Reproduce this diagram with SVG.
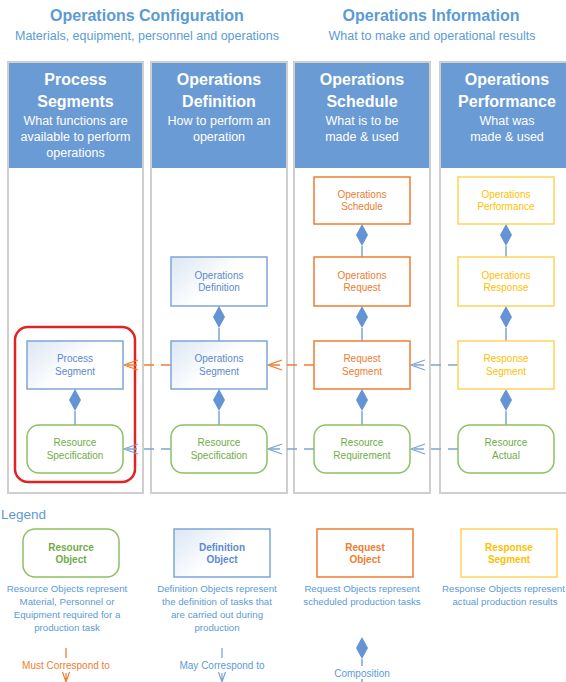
<svg xmlns="http://www.w3.org/2000/svg" width="566" height="682" viewBox="0 0 566 682">
<style>
text{font-family:"Liberation Sans",Arial,sans-serif;text-anchor:middle}
.title{font-size:16px;font-weight:bold;fill:#5b9bd5}
.sub{font-size:12.5px;fill:#5b9bd5}
.col{fill:#ffffff;stroke:#cfcfcf;stroke-width:2}
.hdr{fill:#6a9bd4}
.ht{font-size:16px;font-weight:bold;fill:#ffffff}
.hs{font-size:12.5px;fill:#ffffff}
.def{fill:url(#g);stroke:#7ea6d8;stroke-width:1.5}
.req{fill:#ffffff;stroke:#ed7d31;stroke-width:1.5}
.rsp{fill:#ffffff;stroke:#fdd35a;stroke-width:1.5}
.res{fill:#ffffff;stroke:#8dc063;stroke-width:1.5}
.nt{font-size:10px}
.tb{fill:#5b8ad0}
.to{fill:#ed7d31}
.ty{fill:#ffc000}
.tg{fill:#70ad47}
.b{font-weight:bold}
.dia{fill:#6494d4}
.cl{stroke:#7aa6d8;stroke-width:1.5;fill:none}
.dashb{stroke:#7aa6d8;stroke-width:1.5;stroke-dasharray:10 7;fill:none}
.dasho{stroke:#ed7d31;stroke-width:1.5;stroke-dasharray:10 7;fill:none}
.lt{font-size:9.7px;fill:#5b9bd5}
</style>
<defs>
<linearGradient id="g" x1="0" y1="0" x2="1" y2="0.6">
<stop offset="0" stop-color="#dce6f3"/>
<stop offset="0.6" stop-color="#ffffff"/>
</linearGradient>
<marker id="ab" markerUnits="userSpaceOnUse" markerWidth="20" markerHeight="20" refX="0" refY="0" viewBox="-16 -8 20 16" orient="auto" overflow="visible">
<path d="M-14,-5 L0,0 L-14,5" fill="none" stroke="#7aa6d8" stroke-width="1.3" stroke-dasharray="none"/>
</marker>
<marker id="ao" markerUnits="userSpaceOnUse" markerWidth="20" markerHeight="20" refX="0" refY="0" viewBox="-16 -8 20 16" orient="auto" overflow="visible">
<path d="M-14,-5 L0,0 L-14,5" fill="none" stroke="#ed7d31" stroke-width="1.3" stroke-dasharray="none"/>
</marker>
</defs>
<rect width="566" height="682" fill="#ffffff"/>

<g id="headings">
<text class="title" x="147" y="21">Operations Configuration</text>
<text class="sub" x="147" y="39.5">Materials, equipment, personnel and operations</text>
<text class="title" x="431" y="21">Operations Information</text>
<text class="sub" x="432" y="39.5">What to make and operational results</text>
</g>

<g id="col-process-segments">
<rect class="col" x="8" y="62" width="135" height="431"/>
<rect class="hdr" x="9" y="63" width="133" height="105"/>
<text class="ht" x="75.5" y="85">Process</text>
<text class="ht" x="75.5" y="107">Segments</text>
<text class="hs" x="75.5" y="124.5">What functions are</text>
<text class="hs" x="75.5" y="140.5">available to perform</text>
<text class="hs" x="75.5" y="157">operations</text>
</g>
<g id="col-operations-definition">
<rect class="col" x="151" y="62" width="136" height="431"/>
<rect class="hdr" x="152" y="63" width="134" height="105"/>
<text class="ht" x="219" y="85">Operations</text>
<text class="ht" x="219" y="107">Definition</text>
<text class="hs" x="219" y="124.5">How to perform an</text>
<text class="hs" x="219" y="140.5">operation</text>
</g>
<g id="col-operations-schedule">
<rect class="col" x="294" y="62" width="136" height="431"/>
<rect class="hdr" x="295" y="63" width="134" height="105"/>
<text class="ht" x="362" y="85">Operations</text>
<text class="ht" x="362" y="107">Schedule</text>
<text class="hs" x="362" y="124.5">What is to be</text>
<text class="hs" x="362" y="140.5">made &amp; used</text>
</g>
<g id="col-operations-performance">
<rect class="col" x="440" y="62" width="136" height="431"/>
<rect class="hdr" x="441" y="63" width="134" height="105"/>
<text class="ht" x="507" y="85">Operations</text>
<text class="ht" x="507" y="107">Performance</text>
<text class="hs" x="507" y="124.5">What was</text>
<text class="hs" x="507" y="140.5">made &amp; used</text>
</g>

<g id="highlight">
<rect x="15" y="327" width="120" height="155" rx="13" fill="none" stroke="#e02424" stroke-width="2.5"/>
</g>

<g id="connectors">
<line class="cl" x1="75" y1="411" x2="75" y2="425"/>
<line class="cl" x1="219" y1="328" x2="219" y2="341"/>
<line class="cl" x1="219" y1="411" x2="219" y2="425"/>
<line class="cl" x1="362" y1="246" x2="362" y2="257"/>
<line class="cl" x1="362" y1="328" x2="362" y2="341"/>
<line class="cl" x1="362" y1="411" x2="362" y2="425"/>
<line class="cl" x1="506" y1="246" x2="506" y2="257"/>
<line class="cl" x1="506" y1="328" x2="506" y2="341"/>
<line class="cl" x1="506" y1="411" x2="506" y2="425"/>
<path class="dia" d="M75,389 L81,400 L75,411 L69,400 Z"/>
<path class="dia" d="M219,306 L225,317 L219,328 L213,317 Z"/>
<path class="dia" d="M219,389 L225,400 L219,411 L213,400 Z"/>
<path class="dia" d="M362,224 L368,235 L362,246 L356,235 Z"/>
<path class="dia" d="M362,306 L368,317 L362,328 L356,317 Z"/>
<path class="dia" d="M362,389 L368,400 L362,411 L356,400 Z"/>
<path class="dia" d="M506,224 L512,235 L506,246 L500,235 Z"/>
<path class="dia" d="M506,306 L512,317 L506,328 L500,317 Z"/>
<path class="dia" d="M506,389 L512,400 L506,411 L500,400 Z"/>
<line class="dasho" x1="171" y1="365" x2="124" y2="365" marker-end="url(#ao)"/>
<line class="dasho" x1="314" y1="365" x2="268" y2="365" marker-end="url(#ao)"/>
<line class="dashb" x1="458" y1="365" x2="411" y2="365" marker-end="url(#ab)"/>
<line class="dashb" x1="171" y1="449" x2="124" y2="449" marker-end="url(#ab)"/>
<line class="dashb" x1="314" y1="449" x2="268" y2="449" marker-end="url(#ab)"/>
<line class="dashb" x1="458" y1="449" x2="411" y2="449" marker-end="url(#ab)"/>
</g>

<g id="process-segment">
<rect class="def" x="27" y="341" width="96" height="48"/>
<text class="nt tb" x="75" y="362">Process</text>
<text class="nt tb" x="75" y="374.5">Segment</text>
</g>
<g id="resource-specification-1">
<rect class="res" x="27" y="425" width="96" height="48" rx="12"/>
<text class="nt tg" x="75" y="446">Resource</text>
<text class="nt tg" x="75" y="458.5">Specification</text>
</g>
<g id="operations-definition">
<rect class="def" x="171" y="257" width="96" height="49"/>
<text class="nt tb" x="219" y="278.5">Operations</text>
<text class="nt tb" x="219" y="291">Definition</text>
</g>
<g id="operations-segment">
<rect class="def" x="171" y="341" width="96" height="48"/>
<text class="nt tb" x="219" y="362">Operations</text>
<text class="nt tb" x="219" y="374.5">Segment</text>
</g>
<g id="resource-specification-2">
<rect class="res" x="171" y="425" width="96" height="48" rx="12"/>
<text class="nt tg" x="219" y="446">Resource</text>
<text class="nt tg" x="219" y="458.5">Specification</text>
</g>
<g id="operations-schedule">
<rect class="req" x="314" y="177" width="96" height="47"/>
<text class="nt to" x="362" y="197.5">Operations</text>
<text class="nt to" x="362" y="210">Schedule</text>
</g>
<g id="operations-request">
<rect class="req" x="314" y="257" width="96" height="49"/>
<text class="nt to" x="362" y="278.5">Operations</text>
<text class="nt to" x="362" y="291">Request</text>
</g>
<g id="request-segment">
<rect class="req" x="314" y="341" width="96" height="48"/>
<text class="nt to" x="362" y="362">Request</text>
<text class="nt to" x="362" y="374.5">Segment</text>
</g>
<g id="resource-requirement">
<rect class="res" x="314" y="425" width="96" height="48" rx="12"/>
<text class="nt tg" x="362" y="446">Resource</text>
<text class="nt tg" x="362" y="458.5">Requirement</text>
</g>
<g id="operations-performance">
<rect class="rsp" x="458" y="177" width="96" height="47"/>
<text class="nt ty" x="506" y="197.5">Operations</text>
<text class="nt ty" x="506" y="210">Performance</text>
</g>
<g id="operations-response">
<rect class="rsp" x="458" y="257" width="96" height="49"/>
<text class="nt ty" x="506" y="278.5">Operations</text>
<text class="nt ty" x="506" y="291">Response</text>
</g>
<g id="response-segment">
<rect class="rsp" x="458" y="341" width="96" height="48"/>
<text class="nt ty" x="506" y="362">Response</text>
<text class="nt ty" x="506" y="374.5">Segment</text>
</g>
<g id="resource-actual">
<rect class="res" x="458" y="425" width="96" height="48" rx="12"/>
<text class="nt tg" x="506" y="446">Resource</text>
<text class="nt tg" x="506" y="458.5">Actual</text>
</g>

<g id="legend">
<text x="1" y="519" style="font-size:13.5px;fill:#5b9bd5;text-anchor:start">Legend</text>
<g id="legend-resource">
<rect class="res" x="23" y="529" width="96" height="48" rx="12"/>
<text class="nt tg b" x="71" y="550.5">Resource</text>
<text class="nt tg b" x="71" y="563">Object</text>
<text class="lt" x="67" y="592">Resource Objects represent</text>
<text class="lt" x="67" y="605">Material, Personnel or</text>
<text class="lt" x="67" y="618">Equipment required for a</text>
<text class="lt" x="67" y="631">production task</text>
</g>
<g id="legend-definition">
<rect class="def" x="174" y="529" width="96" height="48"/>
<text class="nt tb b" x="222" y="550.5">Definition</text>
<text class="nt tb b" x="222" y="563">Object</text>
<text class="lt" x="217" y="592">Definition Objects represent</text>
<text class="lt" x="217" y="605">the definition of tasks that</text>
<text class="lt" x="217" y="618">are carried out during</text>
<text class="lt" x="217" y="631">production</text>
</g>
<g id="legend-request">
<rect class="req" x="317" y="529" width="96" height="48"/>
<text class="nt to b" x="365" y="550.5">Request</text>
<text class="nt to b" x="365" y="563">Object</text>
<text class="lt" x="362" y="592">Request Objects represent</text>
<text class="lt" x="362" y="605">scheduled production tasks</text>
</g>
<g id="legend-response">
<rect class="rsp" x="461" y="529" width="96" height="48"/>
<text class="nt ty b" x="509" y="550.5">Response</text>
<text class="nt ty b" x="509" y="563">Segment</text>
<text class="lt" x="503.5" y="592">Response Objects represent</text>
<text class="lt" x="505" y="605">actual production results</text>
</g>
<g id="legend-must">
<line x1="66" y1="648" x2="66" y2="658" stroke="#ed7d31" stroke-width="1.3"/>
<text x="66" y="669" style="font-size:10px;fill:#ed7d31">Must Correspond to</text>
<path d="M62.5,672 L66,682 L69.5,672 M66,673 L66,682" fill="none" stroke="#ed7d31" stroke-width="1.2"/>
</g>
<g id="legend-may">
<line x1="222" y1="648" x2="222" y2="658" stroke="#7aa6d8" stroke-width="1.3"/>
<text x="222" y="669" style="font-size:10px;fill:#5b9bd5">May Correspond to</text>
<path d="M218.5,672 L222,682 L225.5,672 M222,673 L222,682" fill="none" stroke="#7aa6d8" stroke-width="1.2"/>
</g>
<g id="legend-composition">
<path class="dia" d="M362,637 L368,648 L362,659 L356,648 Z"/>
<line class="cl" x1="362" y1="659" x2="362" y2="666"/>
<text x="362" y="677" style="font-size:10px;fill:#5b9bd5">Composition</text>
<line class="cl" x1="362" y1="679" x2="362" y2="682"/>
</g>
</g>
</svg>
